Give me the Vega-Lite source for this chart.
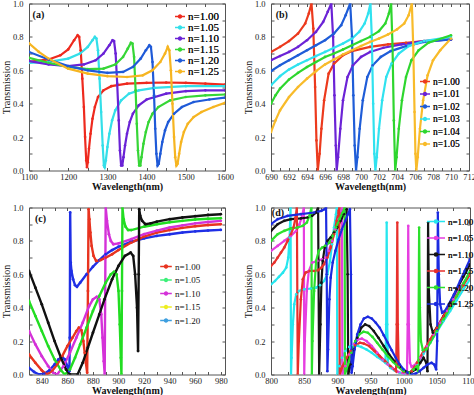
{
"$schema":"https://vega.github.io/schema/vega-lite/v6.json",
"background":"white",
"padding":{"left":0,"top":-1.5,"right":0,"bottom":0},
"config":{
 "font":"Liberation Serif",
 "view":{"stroke":"#555","strokeWidth":1},
 "axis":{"labelFont":"Liberation Serif","labelFontSize":8.5,"labelColor":"#222","tickColor":"#555","tickSize":-3,"domain":false,"grid":false,"labelOverlap":false,"labelFlush":false,"titleFont":"Liberation Serif","titleColor":"#111","titleFontSize":10},
 "axisX":{"labelPadding":5,"titlePadding":0,"titleFontWeight":"bold"},
 "axisY":{"labelPadding":9,"titlePadding":1,"titleFontWeight":"normal"},
 "legend":{"title":null,"labelFont":"Liberation Serif","labelColor":"#111","padding":0,"rowPadding":0,"labelOffset":2,"symbolStrokeWidth":1.5}
},
"datasets":{
"a":[
{"n":"n=1.00","w":1100,"t":0.65},{"n":"n=1.00","w":1150,"t":0.665},{"n":"n=1.00","w":1180,"t":0.69},{"n":"n=1.00","w":1200,"t":0.725},{"n":"n=1.00","w":1215,"t":0.78},{"n":"n=1.00","w":1224,"t":0.81},{"n":"n=1.00","w":1228,"t":0.8},{"n":"n=1.00","w":1232,"t":0.72},{"n":"n=1.00","w":1236,"t":0.55},{"n":"n=1.00","w":1240,"t":0.38},{"n":"n=1.00","w":1243,"t":0.2},{"n":"n=1.00","w":1246,"t":0.06},{"n":"n=1.00","w":1248,"t":0.02},{"n":"n=1.00","w":1250,"t":0.05},{"n":"n=1.00","w":1253,"t":0.13},{"n":"n=1.00","w":1257,"t":0.22},{"n":"n=1.00","w":1262,"t":0.31},{"n":"n=1.00","w":1268,"t":0.38},{"n":"n=1.00","w":1276,"t":0.44},{"n":"n=1.00","w":1290,"t":0.48},{"n":"n=1.00","w":1310,"t":0.505},{"n":"n=1.00","w":1350,"t":0.52},{"n":"n=1.00","w":1400,"t":0.525},{"n":"n=1.00","w":1450,"t":0.527},{"n":"n=1.00","w":1500,"t":0.525},{"n":"n=1.00","w":1550,"t":0.52},{"n":"n=1.00","w":1600,"t":0.515},
{"n":"n=1.05","w":1100,"t":0.645},{"n":"n=1.05","w":1150,"t":0.65},{"n":"n=1.05","w":1200,"t":0.67},{"n":"n=1.05","w":1230,"t":0.7},{"n":"n=1.05","w":1250,"t":0.74},{"n":"n=1.05","w":1262,"t":0.78},{"n":"n=1.05","w":1268,"t":0.8},{"n":"n=1.05","w":1272,"t":0.79},{"n":"n=1.05","w":1276,"t":0.72},{"n":"n=1.05","w":1280,"t":0.55},{"n":"n=1.05","w":1284,"t":0.35},{"n":"n=1.05","w":1288,"t":0.15},{"n":"n=1.05","w":1291,"t":0.03},{"n":"n=1.05","w":1293,"t":0.02},{"n":"n=1.05","w":1296,"t":0.06},{"n":"n=1.05","w":1300,"t":0.14},{"n":"n=1.05","w":1305,"t":0.22},{"n":"n=1.05","w":1312,"t":0.3},{"n":"n=1.05","w":1320,"t":0.36},{"n":"n=1.05","w":1335,"t":0.42},{"n":"n=1.05","w":1355,"t":0.46},{"n":"n=1.05","w":1380,"t":0.48},{"n":"n=1.05","w":1420,"t":0.495},{"n":"n=1.05","w":1500,"t":0.505},{"n":"n=1.05","w":1600,"t":0.505},
{"n":"n=1.10","w":1100,"t":0.655},{"n":"n=1.10","w":1150,"t":0.635},{"n":"n=1.10","w":1200,"t":0.625},{"n":"n=1.10","w":1240,"t":0.635},{"n":"n=1.10","w":1270,"t":0.66},{"n":"n=1.10","w":1290,"t":0.7},{"n":"n=1.10","w":1305,"t":0.75},{"n":"n=1.10","w":1313,"t":0.78},{"n":"n=1.10","w":1317,"t":0.775},{"n":"n=1.10","w":1321,"t":0.7},{"n":"n=1.10","w":1325,"t":0.52},{"n":"n=1.10","w":1329,"t":0.3},{"n":"n=1.10","w":1332,"t":0.12},{"n":"n=1.10","w":1335,"t":0.03},{"n":"n=1.10","w":1338,"t":0.03},{"n":"n=1.10","w":1341,"t":0.08},{"n":"n=1.10","w":1345,"t":0.15},{"n":"n=1.10","w":1350,"t":0.22},{"n":"n=1.10","w":1357,"t":0.29},{"n":"n=1.10","w":1365,"t":0.34},{"n":"n=1.10","w":1380,"t":0.39},{"n":"n=1.10","w":1400,"t":0.425},{"n":"n=1.10","w":1450,"t":0.46},{"n":"n=1.10","w":1500,"t":0.475},{"n":"n=1.10","w":1550,"t":0.48},{"n":"n=1.10","w":1600,"t":0.48},
{"n":"n=1.15","w":1100,"t":0.675},{"n":"n=1.15","w":1150,"t":0.645},{"n":"n=1.15","w":1200,"t":0.62},{"n":"n=1.15","w":1250,"t":0.607},{"n":"n=1.15","w":1290,"t":0.61},{"n":"n=1.15","w":1320,"t":0.635},{"n":"n=1.15","w":1340,"t":0.68},{"n":"n=1.15","w":1352,"t":0.73},{"n":"n=1.15","w":1360,"t":0.765},{"n":"n=1.15","w":1364,"t":0.76},{"n":"n=1.15","w":1368,"t":0.68},{"n":"n=1.15","w":1372,"t":0.48},{"n":"n=1.15","w":1375,"t":0.28},{"n":"n=1.15","w":1378,"t":0.12},{"n":"n=1.15","w":1381,"t":0.03},{"n":"n=1.15","w":1384,"t":0.03},{"n":"n=1.15","w":1387,"t":0.08},{"n":"n=1.15","w":1392,"t":0.16},{"n":"n=1.15","w":1398,"t":0.23},{"n":"n=1.15","w":1405,"t":0.29},{"n":"n=1.15","w":1415,"t":0.34},{"n":"n=1.15","w":1430,"t":0.38},{"n":"n=1.15","w":1460,"t":0.42},{"n":"n=1.15","w":1500,"t":0.44},{"n":"n=1.15","w":1550,"t":0.45},{"n":"n=1.15","w":1600,"t":0.455},
{"n":"n=1.20","w":1100,"t":0.71},{"n":"n=1.20","w":1150,"t":0.665},{"n":"n=1.20","w":1200,"t":0.625},{"n":"n=1.20","w":1250,"t":0.6},{"n":"n=1.20","w":1300,"t":0.585},{"n":"n=1.20","w":1340,"t":0.59},{"n":"n=1.20","w":1365,"t":0.62},{"n":"n=1.20","w":1385,"t":0.67},{"n":"n=1.20","w":1398,"t":0.72},{"n":"n=1.20","w":1407,"t":0.75},{"n":"n=1.20","w":1411,"t":0.74},{"n":"n=1.20","w":1415,"t":0.65},{"n":"n=1.20","w":1419,"t":0.45},{"n":"n=1.20","w":1422,"t":0.25},{"n":"n=1.20","w":1425,"t":0.1},{"n":"n=1.20","w":1428,"t":0.03},{"n":"n=1.20","w":1431,"t":0.04},{"n":"n=1.20","w":1435,"t":0.1},{"n":"n=1.20","w":1440,"t":0.17},{"n":"n=1.20","w":1447,"t":0.24},{"n":"n=1.20","w":1455,"t":0.29},{"n":"n=1.20","w":1470,"t":0.34},{"n":"n=1.20","w":1490,"t":0.38},{"n":"n=1.20","w":1520,"t":0.41},{"n":"n=1.20","w":1560,"t":0.425},{"n":"n=1.20","w":1600,"t":0.436},
{"n":"n=1.25","w":1100,"t":0.762},{"n":"n=1.25","w":1125,"t":0.71},{"n":"n=1.25","w":1150,"t":0.67},{"n":"n=1.25","w":1200,"t":0.61},{"n":"n=1.25","w":1250,"t":0.58},{"n":"n=1.25","w":1300,"t":0.565},{"n":"n=1.25","w":1350,"t":0.56},{"n":"n=1.25","w":1390,"t":0.57},{"n":"n=1.25","w":1415,"t":0.6},{"n":"n=1.25","w":1435,"t":0.65},{"n":"n=1.25","w":1447,"t":0.7},{"n":"n=1.25","w":1454,"t":0.74},{"n":"n=1.25","w":1458,"t":0.72},{"n":"n=1.25","w":1462,"t":0.6},{"n":"n=1.25","w":1466,"t":0.4},{"n":"n=1.25","w":1470,"t":0.2},{"n":"n=1.25","w":1473,"t":0.08},{"n":"n=1.25","w":1476,"t":0.03},{"n":"n=1.25","w":1479,"t":0.04},{"n":"n=1.25","w":1483,"t":0.1},{"n":"n=1.25","w":1488,"t":0.17},{"n":"n=1.25","w":1495,"t":0.23},{"n":"n=1.25","w":1505,"t":0.28},{"n":"n=1.25","w":1520,"t":0.32},{"n":"n=1.25","w":1540,"t":0.35},{"n":"n=1.25","w":1570,"t":0.38},{"n":"n=1.25","w":1600,"t":0.405}
],
"b":[
{"n":"n=1.00","w":690,"t":0.71},{"n":"n=1.00","w":691,"t":0.74},{"n":"n=1.00","w":692,"t":0.775},{"n":"n=1.00","w":693,"t":0.82},{"n":"n=1.00","w":693.8,"t":0.88},{"n":"n=1.00","w":694.2,"t":0.94},{"n":"n=1.00","w":694.5,"t":1.0},{"n":"n=1.00","w":694.7,"t":0.85},{"n":"n=1.00","w":694.9,"t":0.5},{"n":"n=1.00","w":695.05,"t":0.18},{"n":"n=1.00","w":695.2,"t":0.0},{"n":"n=1.00","w":695.4,"t":0.1},{"n":"n=1.00","w":695.6,"t":0.25},{"n":"n=1.00","w":695.9,"t":0.42},{"n":"n=1.00","w":696.4,"t":0.58},{"n":"n=1.00","w":697,"t":0.64},{"n":"n=1.00","w":698,"t":0.69},{"n":"n=1.00","w":699,"t":0.715},{"n":"n=1.00","w":701,"t":0.74},{"n":"n=1.00","w":703,"t":0.755},{"n":"n=1.00","w":705,"t":0.765},{"n":"n=1.00","w":707,"t":0.775},{"n":"n=1.00","w":710,"t":0.785},
{"n":"n=1.01","w":690,"t":0.66},{"n":"n=1.01","w":691,"t":0.685},{"n":"n=1.01","w":692,"t":0.71},{"n":"n=1.01","w":693,"t":0.74},{"n":"n=1.01","w":694,"t":0.78},{"n":"n=1.01","w":695,"t":0.83},{"n":"n=1.01","w":695.8,"t":0.89},{"n":"n=1.01","w":696.3,"t":0.95},{"n":"n=1.01","w":696.7,"t":1.0},{"n":"n=1.01","w":696.9,"t":0.8},{"n":"n=1.01","w":697.05,"t":0.45},{"n":"n=1.01","w":697.2,"t":0.15},{"n":"n=1.01","w":697.3,"t":0.0},{"n":"n=1.01","w":697.45,"t":0.08},{"n":"n=1.01","w":697.7,"t":0.25},{"n":"n=1.01","w":698,"t":0.42},{"n":"n=1.01","w":698.5,"t":0.56},{"n":"n=1.01","w":699.1,"t":0.63},{"n":"n=1.01","w":700,"t":0.68},{"n":"n=1.01","w":701,"t":0.71},{"n":"n=1.01","w":702.5,"t":0.735},{"n":"n=1.01","w":704.5,"t":0.755},{"n":"n=1.01","w":707,"t":0.775},{"n":"n=1.01","w":710,"t":0.785},
{"n":"n=1.02","w":690,"t":0.595},{"n":"n=1.02","w":691,"t":0.63},{"n":"n=1.02","w":692,"t":0.66},{"n":"n=1.02","w":693,"t":0.69},{"n":"n=1.02","w":694,"t":0.72},{"n":"n=1.02","w":695,"t":0.75},{"n":"n=1.02","w":696,"t":0.78},{"n":"n=1.02","w":697,"t":0.82},{"n":"n=1.02","w":697.8,"t":0.87},{"n":"n=1.02","w":698.3,"t":0.93},{"n":"n=1.02","w":698.8,"t":1.0},{"n":"n=1.02","w":699,"t":0.8},{"n":"n=1.02","w":699.15,"t":0.45},{"n":"n=1.02","w":699.3,"t":0.15},{"n":"n=1.02","w":699.45,"t":0.0},{"n":"n=1.02","w":699.6,"t":0.08},{"n":"n=1.02","w":699.85,"t":0.25},{"n":"n=1.02","w":700.2,"t":0.42},{"n":"n=1.02","w":700.7,"t":0.56},{"n":"n=1.02","w":701.3,"t":0.63},{"n":"n=1.02","w":702.2,"t":0.68},{"n":"n=1.02","w":703.3,"t":0.715},{"n":"n=1.02","w":705,"t":0.745},{"n":"n=1.02","w":707,"t":0.77},{"n":"n=1.02","w":710,"t":0.785},
{"n":"n=1.03","w":690,"t":0.51},{"n":"n=1.03","w":691,"t":0.565},{"n":"n=1.03","w":692,"t":0.605},{"n":"n=1.03","w":693,"t":0.635},{"n":"n=1.03","w":694,"t":0.66},{"n":"n=1.03","w":695,"t":0.685},{"n":"n=1.03","w":696,"t":0.71},{"n":"n=1.03","w":697,"t":0.735},{"n":"n=1.03","w":698,"t":0.76},{"n":"n=1.03","w":699,"t":0.79},{"n":"n=1.03","w":699.8,"t":0.83},{"n":"n=1.03","w":700.4,"t":0.88},{"n":"n=1.03","w":700.8,"t":0.94},{"n":"n=1.03","w":701.05,"t":1.0},{"n":"n=1.03","w":701.2,"t":0.8},{"n":"n=1.03","w":701.35,"t":0.4},{"n":"n=1.03","w":701.48,"t":0.1},{"n":"n=1.03","w":701.6,"t":0.0},{"n":"n=1.03","w":701.75,"t":0.08},{"n":"n=1.03","w":702,"t":0.25},{"n":"n=1.03","w":702.35,"t":0.42},{"n":"n=1.03","w":702.8,"t":0.56},{"n":"n=1.03","w":703.4,"t":0.64},{"n":"n=1.03","w":704.2,"t":0.7},{"n":"n=1.03","w":705.3,"t":0.745},{"n":"n=1.03","w":707,"t":0.775},{"n":"n=1.03","w":710,"t":0.8},
{"n":"n=1.04","w":690,"t":0.4},{"n":"n=1.04","w":690.5,"t":0.45},{"n":"n=1.04","w":691,"t":0.49},{"n":"n=1.04","w":692,"t":0.545},{"n":"n=1.04","w":693,"t":0.585},{"n":"n=1.04","w":694,"t":0.62},{"n":"n=1.04","w":695,"t":0.65},{"n":"n=1.04","w":696,"t":0.68},{"n":"n=1.04","w":697,"t":0.7},{"n":"n=1.04","w":698,"t":0.725},{"n":"n=1.04","w":699,"t":0.75},{"n":"n=1.04","w":700,"t":0.775},{"n":"n=1.04","w":701,"t":0.8},{"n":"n=1.04","w":702,"t":0.835},{"n":"n=1.04","w":702.7,"t":0.88},{"n":"n=1.04","w":703.1,"t":0.94},{"n":"n=1.04","w":703.35,"t":1.0},{"n":"n=1.04","w":703.5,"t":0.75},{"n":"n=1.04","w":703.65,"t":0.3},{"n":"n=1.04","w":703.8,"t":0.0},{"n":"n=1.04","w":703.95,"t":0.08},{"n":"n=1.04","w":704.2,"t":0.25},{"n":"n=1.04","w":704.55,"t":0.42},{"n":"n=1.04","w":705,"t":0.56},{"n":"n=1.04","w":705.6,"t":0.66},{"n":"n=1.04","w":706.4,"t":0.72},{"n":"n=1.04","w":707.5,"t":0.765},{"n":"n=1.04","w":710,"t":0.81},
{"n":"n=1.05","w":690,"t":0.23},{"n":"n=1.05","w":690.5,"t":0.3},{"n":"n=1.05","w":691,"t":0.36},{"n":"n=1.05","w":692,"t":0.44},{"n":"n=1.05","w":693,"t":0.5},{"n":"n=1.05","w":694,"t":0.55},{"n":"n=1.05","w":695,"t":0.595},{"n":"n=1.05","w":696,"t":0.635},{"n":"n=1.05","w":697,"t":0.665},{"n":"n=1.05","w":698,"t":0.695},{"n":"n=1.05","w":699,"t":0.72},{"n":"n=1.05","w":700,"t":0.745},{"n":"n=1.05","w":701,"t":0.77},{"n":"n=1.05","w":702,"t":0.79},{"n":"n=1.05","w":703,"t":0.815},{"n":"n=1.05","w":704,"t":0.845},{"n":"n=1.05","w":704.8,"t":0.88},{"n":"n=1.05","w":705.3,"t":0.93},{"n":"n=1.05","w":705.65,"t":1.0},{"n":"n=1.05","w":705.8,"t":0.75},{"n":"n=1.05","w":705.95,"t":0.35},{"n":"n=1.05","w":706.05,"t":0.1},{"n":"n=1.05","w":706.15,"t":0.0},{"n":"n=1.05","w":706.3,"t":0.08},{"n":"n=1.05","w":706.55,"t":0.25},{"n":"n=1.05","w":706.9,"t":0.42},{"n":"n=1.05","w":707.4,"t":0.57},{"n":"n=1.05","w":708,"t":0.66},{"n":"n=1.05","w":708.8,"t":0.72},{"n":"n=1.05","w":710,"t":0.79}
],
"c":[
{"n":"n=1.00","w":830,"t":0.04},{"n":"n=1.00","w":834,"t":0.015},{"n":"n=1.00","w":838,"t":0.0},{"n":"n=1.00","w":842,"t":0.005},{"n":"n=1.00","w":846,"t":0.025},{"n":"n=1.00","w":850,"t":0.06},{"n":"n=1.00","w":853,"t":0.09},{"n":"n=1.00","w":856,"t":0.105},{"n":"n=1.00","w":858,"t":0.09},{"n":"n=1.00","w":860,"t":0.05},{"n":"n=1.00","w":861.6,"t":0.02},{"n":"n=1.00","w":861.9,"t":0.22},{"n":"n=1.00","w":862.2,"t":0.97},{"n":"n=1.00","w":862.6,"t":0.67},{"n":"n=1.00","w":863.2,"t":0.62},{"n":"n=1.00","w":864.5,"t":0.57},{"n":"n=1.00","w":866,"t":0.535},{"n":"n=1.00","w":867.5,"t":0.525},{"n":"n=1.00","w":870,"t":0.55},{"n":"n=1.00","w":875,"t":0.6},{"n":"n=1.00","w":880,"t":0.645},{"n":"n=1.00","w":885,"t":0.685},{"n":"n=1.00","w":890,"t":0.72},{"n":"n=1.00","w":895,"t":0.745},{"n":"n=1.00","w":900,"t":0.765},{"n":"n=1.00","w":910,"t":0.795},{"n":"n=1.00","w":920,"t":0.815},{"n":"n=1.00","w":930,"t":0.83},{"n":"n=1.00","w":940,"t":0.84},{"n":"n=1.00","w":950,"t":0.85},{"n":"n=1.00","w":960,"t":0.857},{"n":"n=1.00","w":970,"t":0.862},{"n":"n=1.00","w":980,"t":0.866},
{"n":"n=1.05","w":830,"t":0.12},{"n":"n=1.05","w":835,"t":0.07},{"n":"n=1.05","w":840,"t":0.025},{"n":"n=1.05","w":844,"t":0.0},{"n":"n=1.05","w":848,"t":0.02},{"n":"n=1.05","w":852,"t":0.06},{"n":"n=1.05","w":856,"t":0.11},{"n":"n=1.05","w":860,"t":0.17},{"n":"n=1.05","w":864,"t":0.22},{"n":"n=1.05","w":867,"t":0.26},{"n":"n=1.05","w":869,"t":0.28},{"n":"n=1.05","w":871,"t":0.265},{"n":"n=1.05","w":872.5,"t":0.2},{"n":"n=1.05","w":873.6,"t":0.13},{"n":"n=1.05","w":874.5,"t":0.07},{"n":"n=1.05","w":875.5,"t":0.01},{"n":"n=1.05","w":876.1,"t":0.5},{"n":"n=1.05","w":876.6,"t":0.99},{"n":"n=1.05","w":877.2,"t":0.93},{"n":"n=1.05","w":878,"t":0.85},{"n":"n=1.05","w":879,"t":0.77},{"n":"n=1.05","w":880.5,"t":0.71},{"n":"n=1.05","w":882.5,"t":0.68},{"n":"n=1.05","w":886,"t":0.685},{"n":"n=1.05","w":890,"t":0.7},{"n":"n=1.05","w":895,"t":0.72},{"n":"n=1.05","w":900,"t":0.745},{"n":"n=1.05","w":910,"t":0.79},{"n":"n=1.05","w":920,"t":0.825},{"n":"n=1.05","w":930,"t":0.85},{"n":"n=1.05","w":940,"t":0.865},{"n":"n=1.05","w":950,"t":0.878},{"n":"n=1.05","w":960,"t":0.888},{"n":"n=1.05","w":970,"t":0.895},{"n":"n=1.05","w":980,"t":0.9},
{"n":"n=1.10","w":830,"t":0.26},{"n":"n=1.10","w":835,"t":0.18},{"n":"n=1.10","w":840,"t":0.11},{"n":"n=1.10","w":845,"t":0.05},{"n":"n=1.10","w":849,"t":0.01},{"n":"n=1.10","w":852,"t":0.0},{"n":"n=1.10","w":857,"t":0.05},{"n":"n=1.10","w":862,"t":0.13},{"n":"n=1.10","w":867,"t":0.22},{"n":"n=1.10","w":872,"t":0.31},{"n":"n=1.10","w":877,"t":0.41},{"n":"n=1.10","w":880,"t":0.45},{"n":"n=1.10","w":883,"t":0.465},{"n":"n=1.10","w":885,"t":0.45},{"n":"n=1.10","w":886.5,"t":0.36},{"n":"n=1.10","w":887.5,"t":0.22},{"n":"n=1.10","w":888.5,"t":0.08},{"n":"n=1.10","w":889.2,"t":0.0},{"n":"n=1.10","w":889.6,"t":0.5},{"n":"n=1.10","w":890,"t":1.0},{"n":"n=1.10","w":891,"t":0.92},{"n":"n=1.10","w":892.5,"t":0.84},{"n":"n=1.10","w":894,"t":0.8},{"n":"n=1.10","w":896,"t":0.78},{"n":"n=1.10","w":900,"t":0.785},{"n":"n=1.10","w":910,"t":0.81},{"n":"n=1.10","w":920,"t":0.84},{"n":"n=1.10","w":930,"t":0.862},{"n":"n=1.10","w":940,"t":0.88},{"n":"n=1.10","w":950,"t":0.893},{"n":"n=1.10","w":960,"t":0.905},{"n":"n=1.10","w":970,"t":0.913},{"n":"n=1.10","w":980,"t":0.92},
{"n":"n=1.15","w":830,"t":0.44},{"n":"n=1.15","w":835,"t":0.35},{"n":"n=1.15","w":840,"t":0.26},{"n":"n=1.15","w":845,"t":0.17},{"n":"n=1.15","w":850,"t":0.09},{"n":"n=1.15","w":855,"t":0.025},{"n":"n=1.15","w":858,"t":0.0},{"n":"n=1.15","w":862,"t":0.03},{"n":"n=1.15","w":866,"t":0.1},{"n":"n=1.15","w":870,"t":0.18},{"n":"n=1.15","w":875,"t":0.28},{"n":"n=1.15","w":880,"t":0.38},{"n":"n=1.15","w":885,"t":0.47},{"n":"n=1.15","w":890,"t":0.55},{"n":"n=1.15","w":894,"t":0.6},{"n":"n=1.15","w":896.5,"t":0.615},{"n":"n=1.15","w":898.5,"t":0.6},{"n":"n=1.15","w":900,"t":0.5},{"n":"n=1.15","w":901,"t":0.3},{"n":"n=1.15","w":901.8,"t":0.1},{"n":"n=1.15","w":902.3,"t":0.0},{"n":"n=1.15","w":902.7,"t":0.5},{"n":"n=1.15","w":903.1,"t":1.0},{"n":"n=1.15","w":904,"t":0.93},{"n":"n=1.15","w":905.5,"t":0.885},{"n":"n=1.15","w":907.5,"t":0.865},{"n":"n=1.15","w":910,"t":0.865},{"n":"n=1.15","w":920,"t":0.885},{"n":"n=1.15","w":930,"t":0.9},{"n":"n=1.15","w":940,"t":0.912},{"n":"n=1.15","w":950,"t":0.92},{"n":"n=1.15","w":960,"t":0.928},{"n":"n=1.15","w":970,"t":0.933},{"n":"n=1.15","w":980,"t":0.936},
{"n":"n=1.20","w":830,"t":0.62},{"n":"n=1.20","w":835,"t":0.52},{"n":"n=1.20","w":840,"t":0.42},{"n":"n=1.20","w":845,"t":0.31},{"n":"n=1.20","w":850,"t":0.2},{"n":"n=1.20","w":855,"t":0.1},{"n":"n=1.20","w":859,"t":0.03},{"n":"n=1.20","w":862,"t":0.0},{"n":"n=1.20","w":868,"t":0.0},{"n":"n=1.20","w":872,"t":0.07},{"n":"n=1.20","w":876,"t":0.16},{"n":"n=1.20","w":880,"t":0.25},{"n":"n=1.20","w":885,"t":0.36},{"n":"n=1.20","w":889,"t":0.45},{"n":"n=1.20","w":895,"t":0.57},{"n":"n=1.20","w":900,"t":0.65},{"n":"n=1.20","w":905,"t":0.71},{"n":"n=1.20","w":909.5,"t":0.73},{"n":"n=1.20","w":911.5,"t":0.71},{"n":"n=1.20","w":913,"t":0.6},{"n":"n=1.20","w":914.5,"t":0.4},{"n":"n=1.20","w":915.3,"t":0.14},{"n":"n=1.20","w":915.8,"t":0.6},{"n":"n=1.20","w":916.2,"t":0.99},{"n":"n=1.20","w":917,"t":0.95},{"n":"n=1.20","w":918.5,"t":0.92},{"n":"n=1.20","w":921,"t":0.9},{"n":"n=1.20","w":925,"t":0.905},{"n":"n=1.20","w":930,"t":0.915},{"n":"n=1.20","w":940,"t":0.93},{"n":"n=1.20","w":950,"t":0.94},{"n":"n=1.20","w":960,"t":0.948},{"n":"n=1.20","w":970,"t":0.955},{"n":"n=1.20","w":980,"t":0.96}
],
"d":[
{"n":"n=1.00","w":800,"t":0.54},{"n":"n=1.00","w":806,"t":0.56},{"n":"n=1.00","w":812,"t":0.585},{"n":"n=1.00","w":818,"t":0.61},{"n":"n=1.00","w":823,"t":0.64},{"n":"n=1.00","w":826,"t":0.7},{"n":"n=1.00","w":828,"t":0.82},{"n":"n=1.00","w":829.5,"t":1.0},{"n":"n=1.00","w":830.2,"t":0.0},{"n":"n=1.00","w":831,"t":0.1},{"n":"n=1.00","w":833,"t":0.3},{"n":"n=1.00","w":835,"t":0.42},{"n":"n=1.00","w":838,"t":0.48},{"n":"n=1.00","w":842,"t":0.5},{"n":"n=1.00","w":850,"t":0.51},{"n":"n=1.00","w":860,"t":0.515},{"n":"n=1.00","w":868,"t":0.52},{"n":"n=1.00","w":874,"t":0.535},{"n":"n=1.00","w":880,"t":0.56},{"n":"n=1.00","w":885,"t":0.6},{"n":"n=1.00","w":889,"t":0.68},{"n":"n=1.00","w":892,"t":0.78},{"n":"n=1.00","w":895,"t":0.88},{"n":"n=1.00","w":898,"t":0.96},{"n":"n=1.00","w":899.3,"t":1.0},{"n":"n=1.00","w":900,"t":0.0},{"n":"n=1.00","w":903,"t":0.05},{"n":"n=1.00","w":907,"t":0.1},{"n":"n=1.00","w":912,"t":0.14},{"n":"n=1.00","w":918,"t":0.165},{"n":"n=1.00","w":924,"t":0.175},{"n":"n=1.00","w":930,"t":0.172},{"n":"n=1.00","w":936,"t":0.165},{"n":"n=1.00","w":944,"t":0.15},{"n":"n=1.00","w":952,"t":0.13},{"n":"n=1.00","w":960,"t":0.105},{"n":"n=1.00","w":968,"t":0.085},{"n":"n=1.00","w":972.5,"t":0.07},{"n":"n=1.00","w":973.6,"t":0.3},{"n":"n=1.00","w":974.4,"t":0.91},{"n":"n=1.00","w":975.2,"t":0.3},{"n":"n=1.00","w":976.5,"t":0.06},{"n":"n=1.00","w":980,"t":0.04},{"n":"n=1.00","w":986,"t":0.025},{"n":"n=1.00","w":994,"t":0.01},{"n":"n=1.00","w":1002,"t":0.0},{"n":"n=1.00","w":1010,"t":0.005},{"n":"n=1.00","w":1020,"t":0.06},{"n":"n=1.00","w":1030,"t":0.125},{"n":"n=1.00","w":1040,"t":0.19},{"n":"n=1.00","w":1050,"t":0.255},{"n":"n=1.00","w":1060,"t":0.32},{"n":"n=1.00","w":1070,"t":0.38},{"n":"n=1.00","w":1080,"t":0.445},{"n":"n=1.00","w":1090,"t":0.51},{"n":"n=1.00","w":1100,"t":0.57},
{"n":"n=1.05","w":800,"t":0.74},{"n":"n=1.05","w":810,"t":0.77},{"n":"n=1.05","w":820,"t":0.8},{"n":"n=1.05","w":830,"t":0.83},{"n":"n=1.05","w":838,"t":0.86},{"n":"n=1.05","w":843,"t":0.9},{"n":"n=1.05","w":847,"t":0.95},{"n":"n=1.05","w":849.5,"t":1.0},{"n":"n=1.05","w":850.1,"t":0.0},{"n":"n=1.05","w":851,"t":0.2},{"n":"n=1.05","w":854,"t":0.5},{"n":"n=1.05","w":857,"t":0.62},{"n":"n=1.05","w":862,"t":0.67},{"n":"n=1.05","w":870,"t":0.68},{"n":"n=1.05","w":877,"t":0.69},{"n":"n=1.05","w":882,"t":0.7},{"n":"n=1.05","w":887,"t":0.74},{"n":"n=1.05","w":892,"t":0.8},{"n":"n=1.05","w":897,"t":0.87},{"n":"n=1.05","w":902,"t":0.93},{"n":"n=1.05","w":905.5,"t":0.98},{"n":"n=1.05","w":907,"t":1.0},{"n":"n=1.05","w":907.6,"t":0.0},{"n":"n=1.05","w":912,"t":0.05},{"n":"n=1.05","w":918,"t":0.12},{"n":"n=1.05","w":925,"t":0.18},{"n":"n=1.05","w":931,"t":0.21},{"n":"n=1.05","w":937,"t":0.215},{"n":"n=1.05","w":944,"t":0.2},{"n":"n=1.05","w":952,"t":0.17},{"n":"n=1.05","w":960,"t":0.13},{"n":"n=1.05","w":968,"t":0.09},{"n":"n=1.05","w":976,"t":0.06},{"n":"n=1.05","w":984,"t":0.035},{"n":"n=1.05","w":992,"t":0.015},{"n":"n=1.05","w":1000,"t":0.005},{"n":"n=1.05","w":1005,"t":0.0},{"n":"n=1.05","w":1006,"t":0.3},{"n":"n=1.05","w":1006.9,"t":0.89},{"n":"n=1.05","w":1007.8,"t":0.3},{"n":"n=1.05","w":1009.5,"t":0.07},{"n":"n=1.05","w":1012,"t":0.046},{"n":"n=1.05","w":1018,"t":0.06},{"n":"n=1.05","w":1025,"t":0.1},{"n":"n=1.05","w":1035,"t":0.17},{"n":"n=1.05","w":1045,"t":0.24},{"n":"n=1.05","w":1055,"t":0.31},{"n":"n=1.05","w":1065,"t":0.38},{"n":"n=1.05","w":1075,"t":0.45},{"n":"n=1.05","w":1085,"t":0.52},{"n":"n=1.05","w":1100,"t":0.6},
{"n":"n=1.10","w":800,"t":0.86},{"n":"n=1.10","w":810,"t":0.9},{"n":"n=1.10","w":820,"t":0.92},{"n":"n=1.10","w":830,"t":0.93},{"n":"n=1.10","w":845,"t":0.935},{"n":"n=1.10","w":855,"t":0.94},{"n":"n=1.10","w":862,"t":0.95},{"n":"n=1.10","w":868,"t":0.97},{"n":"n=1.10","w":871,"t":1.0},{"n":"n=1.10","w":872.6,"t":0.0},{"n":"n=1.10","w":874.5,"t":0.3},{"n":"n=1.10","w":876,"t":0.55},{"n":"n=1.10","w":878,"t":0.68},{"n":"n=1.10","w":881,"t":0.76},{"n":"n=1.10","w":885,"t":0.8},{"n":"n=1.10","w":890,"t":0.82},{"n":"n=1.10","w":895,"t":0.85},{"n":"n=1.10","w":900,"t":0.88},{"n":"n=1.10","w":905,"t":0.92},{"n":"n=1.10","w":910,"t":0.96},{"n":"n=1.10","w":914,"t":0.99},{"n":"n=1.10","w":915.5,"t":0.6},{"n":"n=1.10","w":916.5,"t":0.0},{"n":"n=1.10","w":920,"t":0.06},{"n":"n=1.10","w":925,"t":0.15},{"n":"n=1.10","w":930,"t":0.22},{"n":"n=1.10","w":936,"t":0.28},{"n":"n=1.10","w":942,"t":0.3},{"n":"n=1.10","w":948,"t":0.29},{"n":"n=1.10","w":955,"t":0.26},{"n":"n=1.10","w":962,"t":0.22},{"n":"n=1.10","w":970,"t":0.17},{"n":"n=1.10","w":978,"t":0.12},{"n":"n=1.10","w":986,"t":0.08},{"n":"n=1.10","w":994,"t":0.045},{"n":"n=1.10","w":1002,"t":0.02},{"n":"n=1.10","w":1010,"t":0.01},{"n":"n=1.10","w":1018,"t":0.03},{"n":"n=1.10","w":1025,"t":0.07},{"n":"n=1.10","w":1030,"t":0.1},{"n":"n=1.10","w":1034,"t":0.07},{"n":"n=1.10","w":1035.9,"t":0.02},{"n":"n=1.10","w":1036.8,"t":0.91},{"n":"n=1.10","w":1038,"t":0.5},{"n":"n=1.10","w":1040.5,"t":0.3},{"n":"n=1.10","w":1044,"t":0.25},{"n":"n=1.10","w":1050,"t":0.28},{"n":"n=1.10","w":1060,"t":0.35},{"n":"n=1.10","w":1070,"t":0.43},{"n":"n=1.10","w":1080,"t":0.51},{"n":"n=1.10","w":1090,"t":0.585},{"n":"n=1.10","w":1100,"t":0.66},
{"n":"n=1.15","w":800,"t":0.65},{"n":"n=1.15","w":805,"t":0.67},{"n":"n=1.15","w":810,"t":0.7},{"n":"n=1.15","w":815,"t":0.73},{"n":"n=1.15","w":820,"t":0.76},{"n":"n=1.15","w":825,"t":0.8},{"n":"n=1.15","w":830,"t":0.84},{"n":"n=1.15","w":834,"t":0.88},{"n":"n=1.15","w":837,"t":0.94},{"n":"n=1.15","w":839,"t":1.0},{"n":"n=1.15","w":840.3,"t":0.0},{"n":"n=1.15","w":842,"t":0.2},{"n":"n=1.15","w":845,"t":0.45},{"n":"n=1.15","w":848,"t":0.57},{"n":"n=1.15","w":852,"t":0.61},{"n":"n=1.15","w":858,"t":0.62},{"n":"n=1.15","w":865,"t":0.62},{"n":"n=1.15","w":871,"t":0.625},{"n":"n=1.15","w":876,"t":0.64},{"n":"n=1.15","w":880,"t":0.66},{"n":"n=1.15","w":885,"t":0.7},{"n":"n=1.15","w":890,"t":0.76},{"n":"n=1.15","w":895,"t":0.84},{"n":"n=1.15","w":899,"t":0.92},{"n":"n=1.15","w":902,"t":0.98},{"n":"n=1.15","w":903,"t":1.0},{"n":"n=1.15","w":903.6,"t":0.0},{"n":"n=1.15","w":908,"t":0.05},{"n":"n=1.15","w":914,"t":0.1},{"n":"n=1.15","w":920,"t":0.14},{"n":"n=1.15","w":927,"t":0.175},{"n":"n=1.15","w":934,"t":0.19},{"n":"n=1.15","w":940,"t":0.185},{"n":"n=1.15","w":948,"t":0.17},{"n":"n=1.15","w":956,"t":0.14},{"n":"n=1.15","w":964,"t":0.11},{"n":"n=1.15","w":972,"t":0.08},{"n":"n=1.15","w":980,"t":0.05},{"n":"n=1.15","w":986,"t":0.03},{"n":"n=1.15","w":988.5,"t":0.02},{"n":"n=1.15","w":989.6,"t":0.3},{"n":"n=1.15","w":990.4,"t":0.91},{"n":"n=1.15","w":991.2,"t":0.3},{"n":"n=1.15","w":992.5,"t":0.05},{"n":"n=1.15","w":1000,"t":0.015},{"n":"n=1.15","w":1006,"t":0.005},{"n":"n=1.15","w":1012,"t":0.02},{"n":"n=1.15","w":1020,"t":0.07},{"n":"n=1.15","w":1030,"t":0.14},{"n":"n=1.15","w":1040,"t":0.21},{"n":"n=1.15","w":1050,"t":0.28},{"n":"n=1.15","w":1060,"t":0.35},{"n":"n=1.15","w":1070,"t":0.41},{"n":"n=1.15","w":1080,"t":0.47},{"n":"n=1.15","w":1090,"t":0.535},{"n":"n=1.15","w":1100,"t":0.6},
{"n":"n=1.20","w":800,"t":0.8},{"n":"n=1.20","w":810,"t":0.84},{"n":"n=1.20","w":820,"t":0.86},{"n":"n=1.20","w":830,"t":0.875},{"n":"n=1.20","w":840,"t":0.88},{"n":"n=1.20","w":848,"t":0.89},{"n":"n=1.20","w":854,"t":0.91},{"n":"n=1.20","w":858,"t":0.95},{"n":"n=1.20","w":861,"t":1.0},{"n":"n=1.20","w":861.6,"t":0.0},{"n":"n=1.20","w":862.5,"t":0.2},{"n":"n=1.20","w":865,"t":0.5},{"n":"n=1.20","w":868,"t":0.68},{"n":"n=1.20","w":872,"t":0.74},{"n":"n=1.20","w":877,"t":0.76},{"n":"n=1.20","w":882,"t":0.77},{"n":"n=1.20","w":888,"t":0.79},{"n":"n=1.20","w":893,"t":0.83},{"n":"n=1.20","w":898,"t":0.88},{"n":"n=1.20","w":903,"t":0.93},{"n":"n=1.20","w":908,"t":0.97},{"n":"n=1.20","w":911,"t":1.0},{"n":"n=1.20","w":911.6,"t":0.0},{"n":"n=1.20","w":916,"t":0.06},{"n":"n=1.20","w":921,"t":0.13},{"n":"n=1.20","w":927,"t":0.2},{"n":"n=1.20","w":933,"t":0.24},{"n":"n=1.20","w":939.5,"t":0.256},{"n":"n=1.20","w":946,"t":0.25},{"n":"n=1.20","w":953,"t":0.225},{"n":"n=1.20","w":960,"t":0.19},{"n":"n=1.20","w":968,"t":0.15},{"n":"n=1.20","w":976,"t":0.11},{"n":"n=1.20","w":984,"t":0.075},{"n":"n=1.20","w":992,"t":0.045},{"n":"n=1.20","w":1000,"t":0.02},{"n":"n=1.20","w":1008,"t":0.01},{"n":"n=1.20","w":1015,"t":0.03},{"n":"n=1.20","w":1020,"t":0.05},{"n":"n=1.20","w":1022,"t":0.02},{"n":"n=1.20","w":1023.3,"t":0.88},{"n":"n=1.20","w":1024.5,"t":0.4},{"n":"n=1.20","w":1026,"t":0.2},{"n":"n=1.20","w":1029,"t":0.145},{"n":"n=1.20","w":1034,"t":0.15},{"n":"n=1.20","w":1040,"t":0.19},{"n":"n=1.20","w":1050,"t":0.26},{"n":"n=1.20","w":1060,"t":0.33},{"n":"n=1.20","w":1070,"t":0.4},{"n":"n=1.20","w":1080,"t":0.47},{"n":"n=1.20","w":1090,"t":0.545},{"n":"n=1.20","w":1100,"t":0.62},
{"n":"n=1.25","w":800,"t":0.9},{"n":"n=1.25","w":810,"t":0.93},{"n":"n=1.25","w":825,"t":0.95},{"n":"n=1.25","w":845,"t":0.96},{"n":"n=1.25","w":865,"t":0.97},{"n":"n=1.25","w":876,"t":0.98},{"n":"n=1.25","w":881,"t":0.99},{"n":"n=1.25","w":883,"t":1.0},{"n":"n=1.25","w":884,"t":0.6},{"n":"n=1.25","w":885,"t":0.02},{"n":"n=1.25","w":886,"t":0.15},{"n":"n=1.25","w":888,"t":0.45},{"n":"n=1.25","w":890,"t":0.58},{"n":"n=1.25","w":893,"t":0.67},{"n":"n=1.25","w":897,"t":0.74},{"n":"n=1.25","w":902,"t":0.81},{"n":"n=1.25","w":907,"t":0.87},{"n":"n=1.25","w":912,"t":0.92},{"n":"n=1.25","w":916,"t":0.96},{"n":"n=1.25","w":919,"t":0.99},{"n":"n=1.25","w":920.5,"t":0.6},{"n":"n=1.25","w":921.5,"t":0.01},{"n":"n=1.25","w":923,"t":0.05},{"n":"n=1.25","w":926,"t":0.15},{"n":"n=1.25","w":930,"t":0.24},{"n":"n=1.25","w":935,"t":0.3},{"n":"n=1.25","w":940,"t":0.335},{"n":"n=1.25","w":946,"t":0.346},{"n":"n=1.25","w":952,"t":0.335},{"n":"n=1.25","w":958,"t":0.31},{"n":"n=1.25","w":964,"t":0.28},{"n":"n=1.25","w":970,"t":0.235},{"n":"n=1.25","w":976,"t":0.19},{"n":"n=1.25","w":982,"t":0.145},{"n":"n=1.25","w":988,"t":0.1},{"n":"n=1.25","w":994,"t":0.06},{"n":"n=1.25","w":1000,"t":0.03},{"n":"n=1.25","w":1006,"t":0.01},{"n":"n=1.25","w":1012,"t":0.0},{"n":"n=1.25","w":1018,"t":0.005},{"n":"n=1.25","w":1024,"t":0.02},{"n":"n=1.25","w":1030,"t":0.04},{"n":"n=1.25","w":1036,"t":0.06},{"n":"n=1.25","w":1042,"t":0.07},{"n":"n=1.25","w":1046,"t":0.06},{"n":"n=1.25","w":1049,"t":0.03},{"n":"n=1.25","w":1050.5,"t":0.2},{"n":"n=1.25","w":1051.5,"t":0.97},{"n":"n=1.25","w":1053,"t":0.6},{"n":"n=1.25","w":1055,"t":0.42},{"n":"n=1.25","w":1058,"t":0.37},{"n":"n=1.25","w":1062,"t":0.38},{"n":"n=1.25","w":1068,"t":0.42},{"n":"n=1.25","w":1076,"t":0.48},{"n":"n=1.25","w":1085,"t":0.56},{"n":"n=1.25","w":1092,"t":0.62},{"n":"n=1.25","w":1100,"t":0.69}
]
},
"columns":2,
"spacing":{"row":37,"column":46},
"bounds":"flush",
"align":"each",
"resolve":{"scale":{"x":"independent","y":"independent","stroke":"independent","fill":"independent","color":"independent"},"legend":{"stroke":"independent","fill":"independent","color":"independent"}},
"concat":[
{
 "width":196,"height":167,"data":{"name":"a"},
 "layer":[
  {"mark":{"type":"line","strokeWidth":2.2,"clip":true},
   "encoding":{
    "x":{"field":"w","type":"quantitative","scale":{"domain":[1100,1600],"nice":false,"zero":false},"axis":{"values":[1100,1150,1200,1250,1300,1350,1400,1450,1500,1550,1600],"format":"d","labelExpr":"datum.value % 100 == 0 ? datum.label : ''","title":"Wavelength(nm)"}},
    "y":{"field":"t","type":"quantitative","scale":{"domain":[0,1],"nice":false},"axis":{"values":[0,0.1,0.2,0.3,0.4,0.5,0.6,0.7,0.8,0.9,1],"labelExpr":"round(datum.value*10) % 2 == 0 ? format(datum.value, '.1f') : ''","title":"Transmission"}},
    "stroke":{"field":"n","type":"nominal","scale":{"range":["#ee2a1e","#33dfe9","#6a22d6","#36d636","#1f5ad8","#f6b521"]},"legend":{"orient":"none","legendX":145,"legendY":7,"symbolType":"M-1,0H1M0.3,0A0.3,0.3,0,1,1,-0.3,0A0.3,0.3,0,1,1,0.3,0Z","symbolSize":100,"labelFontSize":11}}
   }},
  {"mark":{"type":"point","filled":true,"size":7,"opacity":1,"clip":true},
   "encoding":{
    "x":{"field":"w","type":"quantitative","axis":{"orient":"top","values":[1100,1150,1200,1250,1300,1350,1400,1450,1500,1550,1600],"labels":false,"title":null}},
    "y":{"field":"t","type":"quantitative","axis":{"orient":"right","values":[0,0.1,0.2,0.3,0.4,0.5,0.6,0.7,0.8,0.9,1],"labels":false,"title":null}},
    "fill":{"field":"n","type":"nominal","scale":{"range":["#ee2a1e","#33dfe9","#6a22d6","#36d636","#1f5ad8","#f6b521"]},"legend":{"orient":"none","legendX":145,"legendY":7,"symbolType":"M-1,0H1M0.3,0A0.3,0.3,0,1,1,-0.3,0A0.3,0.3,0,1,1,0.3,0Z","symbolSize":100,"labelFontSize":11}}
   }},
  {"data":{"values":[{"s":"(a)"}]},"mark":{"type":"text","font":"Liberation Serif","fontWeight":"bold","fontSize":10,"color":"#111"},
   "encoding":{"x":{"datum":1124,"type":"quantitative","axis":null},"y":{"datum":0.93,"type":"quantitative","axis":null},"text":{"field":"s"}}}
 ],
 "resolve":{"axis":{"x":"independent","y":"independent"}}
},
{
 "width":198,"height":167,"data":{"name":"b"},
 "layer":[
  {"mark":{"type":"line","strokeWidth":2.2,"clip":true},
   "encoding":{
    "x":{"field":"w","type":"quantitative","scale":{"domain":[690,712],"nice":false,"zero":false},"axis":{"values":[690,691,692,693,694,695,696,697,698,699,700,701,702,703,704,705,706,707,708,709,710,711,712],"format":"d","labelExpr":"datum.value % 2 == 0 ? datum.label : ''","title":"Wavelength(nm)"}},
    "y":{"field":"t","type":"quantitative","scale":{"domain":[0,1],"nice":false},"axis":{"values":[0,0.1,0.2,0.3,0.4,0.5,0.6,0.7,0.8,0.9,1],"labelExpr":"round(datum.value*10) % 2 == 0 ? format(datum.value, '.1f') : ''","title":"Transmission"}},
    "stroke":{"field":"n","type":"nominal","scale":{"range":["#ec3a1d","#6b23d6","#1f5dd8","#30e2ef","#2ed62e","#f8bb2a"]},"legend":{"orient":"none","legendX":148,"legendY":72,"symbolType":"M-1,0H1M0.3,0A0.3,0.3,0,1,1,-0.3,0A0.3,0.3,0,1,1,0.3,0Z","symbolSize":100,"labelFontSize":9.5,"rowPadding":1.5}}
   }},
  {"mark":{"type":"point","filled":true,"size":7,"opacity":1,"clip":true},
   "encoding":{
    "x":{"field":"w","type":"quantitative","axis":{"orient":"top","values":[690,691,692,693,694,695,696,697,698,699,700,701,702,703,704,705,706,707,708,709,710,711,712],"labels":false,"title":null}},
    "y":{"field":"t","type":"quantitative","axis":{"orient":"right","values":[0,0.1,0.2,0.3,0.4,0.5,0.6,0.7,0.8,0.9,1],"labels":false,"title":null}},
    "fill":{"field":"n","type":"nominal","scale":{"range":["#ec3a1d","#6b23d6","#1f5dd8","#30e2ef","#2ed62e","#f8bb2a"]},"legend":{"orient":"none","legendX":148,"legendY":72,"symbolType":"M-1,0H1M0.3,0A0.3,0.3,0,1,1,-0.3,0A0.3,0.3,0,1,1,0.3,0Z","symbolSize":100,"labelFontSize":9.5,"rowPadding":1.5}}
   }},
  {"data":{"values":[{"s":"(b)"}]},"mark":{"type":"text","font":"Liberation Serif","fontWeight":"bold","fontSize":10,"color":"#111"},
   "encoding":{"x":{"datum":691.2,"type":"quantitative","axis":null},"y":{"datum":0.93,"type":"quantitative","axis":null},"text":{"field":"s"}}}
 ],
 "resolve":{"axis":{"x":"independent","y":"independent"}}
},
{
 "width":196,"height":167,"data":{"name":"c"},
 "layer":[
  {"mark":{"type":"line","strokeWidth":2.4,"clip":true},
   "encoding":{
    "x":{"field":"w","type":"quantitative","scale":{"domain":[830,983.3],"nice":false,"zero":false},"axis":{"values":[830,840,850,860,870,880,890,900,910,920,930,940,950,960,970,980],"format":"d","labelExpr":"datum.value % 20 == 0 ? datum.label : ''","title":"Wavelength(nm)"}},
    "y":{"field":"t","type":"quantitative","scale":{"domain":[0,1],"nice":false},"axis":{"values":[0,0.1,0.2,0.3,0.4,0.5,0.6,0.7,0.8,0.9,1],"labelExpr":"round(datum.value*10) % 2 == 0 ? format(datum.value, '.1f') : ''","title":"Transmission"}},
    "color":{"field":"n","type":"nominal","scale":{"range":["#1f2fe6","#e8331f","#d431d8","#22dd22","#111111"]},"legend":null}
   }},
  {"mark":{"type":"point","filled":true,"size":8,"opacity":1,"strokeWidth":0,"clip":true},
   "encoding":{
    "x":{"field":"w","type":"quantitative","axis":{"orient":"top","values":[830,840,850,860,870,880,890,900,910,920,930,940,950,960,970,980],"labels":false,"title":null}},
    "y":{"field":"t","type":"quantitative","axis":{"orient":"right","values":[0,0.1,0.2,0.3,0.4,0.5,0.6,0.7,0.8,0.9,1],"labels":false,"title":null}},
    "fill":{"field":"n","type":"nominal","scale":{"range":["#1f2fe6","#e8331f","#d431d8","#22dd22","#111111"]},"legend":{"orient":"none","legendX":130,"legendY":52,"symbolType":"M-1,0H1M0.26,0A0.26,0.26,0,1,1,-0.26,0A0.26,0.26,0,1,1,0.26,0Z","symbolSize":135,"labelFontSize":9,"rowPadding":1.5}},
    "stroke":{"field":"n","type":"nominal","scale":{"range":["#e8331f","#3ef07a","#d431d8","#eeee22","#3d9fe0"]},"legend":{"orient":"none","legendX":130,"legendY":52,"symbolType":"M-1,0H1M0.26,0A0.26,0.26,0,1,1,-0.26,0A0.26,0.26,0,1,1,0.26,0Z","symbolSize":135,"labelFontSize":9,"rowPadding":1.5}}
   }},
  {"data":{"values":[{"s":"(c)"}]},"mark":{"type":"text","font":"Liberation Serif","fontWeight":"bold","fontSize":10,"color":"#111"},
   "encoding":{"x":{"datum":839,"type":"quantitative","axis":null},"y":{"datum":0.93,"type":"quantitative","axis":null},"text":{"field":"s"}}}
 ],
 "resolve":{"axis":{"x":"independent","y":"independent"}}
},
{
 "width":199,"height":167,"data":{"name":"d"},
 "layer":[
  {"mark":{"type":"line","strokeWidth":2.2,"clip":true},
   "encoding":{
    "x":{"field":"w","type":"quantitative","scale":{"domain":[800,1100],"nice":false,"zero":false},"axis":{"values":[800,825,850,875,900,925,950,975,1000,1025,1050,1075,1100],"format":"d","labelExpr":"datum.value % 50 == 0 ? datum.label : ''","title":"Wavelength(nm)"}},
    "y":{"field":"t","type":"quantitative","scale":{"domain":[0,1],"nice":false},"axis":{"values":[0,0.1,0.2,0.3,0.4,0.5,0.6,0.7,0.8,0.9,1],"labelExpr":"round(datum.value*10) % 2 == 0 ? format(datum.value, '.1f') : ''","title":"Transmission"}},
    "stroke":{"field":"n","type":"nominal","scale":{"range":["#26e6ee","#e63ee0","#151515","#e8302c","#2ce02c","#1c2be0"]},"legend":{"orient":"none","legendX":155,"legendY":4,"symbolType":"M-1,0H1M0.17,0A0.17,0.17,0,1,1,-0.17,0A0.17,0.17,0,1,1,0.17,0Z","symbolSize":324,"labelFontSize":9,"rowPadding":1.5}}
   }},
  {"mark":{"type":"point","filled":true,"size":7,"opacity":1,"clip":true},
   "encoding":{
    "x":{"field":"w","type":"quantitative","axis":{"orient":"top","values":[800,825,850,875,900,925,950,975,1000,1025,1050,1075,1100],"labels":false,"title":null}},
    "y":{"field":"t","type":"quantitative","axis":{"orient":"right","values":[0,0.1,0.2,0.3,0.4,0.5,0.6,0.7,0.8,0.9,1],"labels":false,"title":null}},
    "fill":{"field":"n","type":"nominal","scale":{"range":["#26e6ee","#e63ee0","#151515","#e8302c","#2ce02c","#1c2be0"]},"legend":{"orient":"none","legendX":155,"legendY":4,"symbolType":"M-1,0H1M0.17,0A0.17,0.17,0,1,1,-0.17,0A0.17,0.17,0,1,1,0.17,0Z","symbolSize":324,"labelFontSize":9,"rowPadding":1.5}}
   }},
  {"data":{"values":[{"s":"(d)"}]},"mark":{"type":"text","font":"Liberation Serif","fontWeight":"bold","fontSize":10,"color":"#111"},
   "encoding":{"x":{"datum":810.5,"type":"quantitative","axis":null},"y":{"datum":0.97,"type":"quantitative","axis":null},"text":{"field":"s"}}}
 ],
 "resolve":{"axis":{"x":"independent","y":"independent"}}
}
]
}
